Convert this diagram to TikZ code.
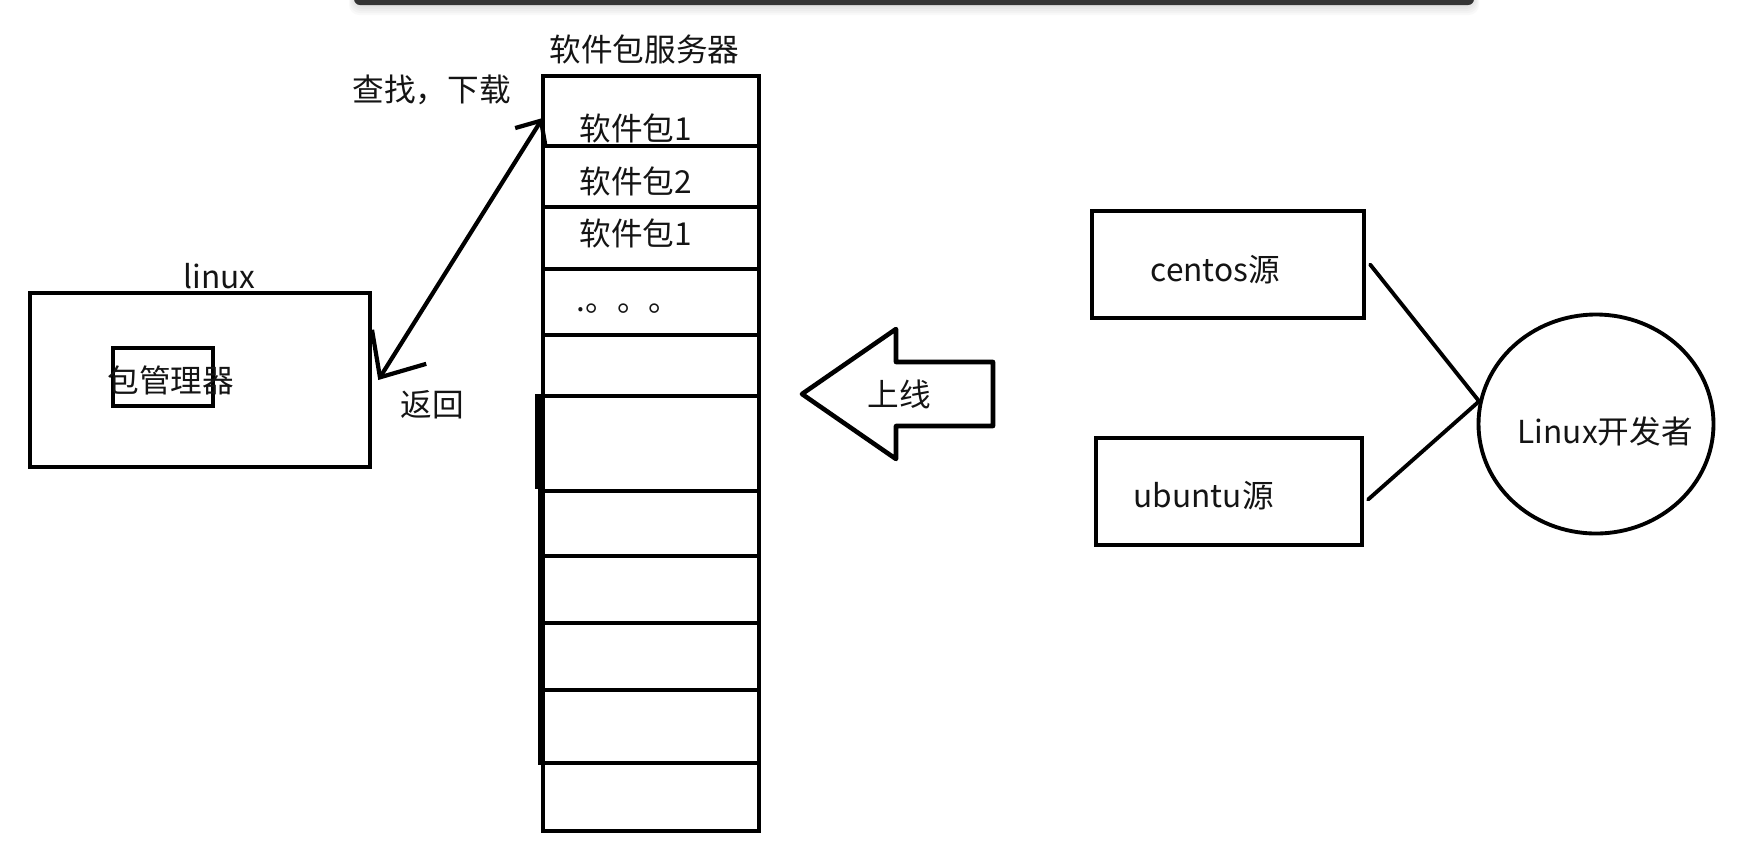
\documentclass[tikz,border=0pt]{standalone}
\usepackage{fontspec}
\setmainfont{Noto Sans CJK SC}
\usepackage{tikz}
\usetikzlibrary{shapes.geometric, arrows.meta, positioning, fit}
\definecolor{mydark}{RGB}{20,20,20}
\definecolor{barcol}{RGB}{52,52,52}
\tikzset{
  box/.style={rectangle, draw=black, line width=1.3pt, inner sep=0pt},
  devcircle/.style={ellipse, draw=black, line width=1.1pt,
    minimum width=23.5mm, minimum height=21.9mm, inner sep=0pt},
  txt/.style={inner sep=0pt, anchor=base west,
    font=\fontsize{9}{11}\selectfont, text=mydark},
  arrow/.style={{Straight Barb[length=3.6mm,width=6.4mm]}-{Straight Barb[length=2mm,width=3.6mm]},
    line width=1.2pt, line cap=round, line join=round},
  line/.style={line width=1.1pt, line cap=round}
}

\begin{document}
\begin{tikzpicture}[x=0.1mm, y=-0.1mm]
  \useasboundingbox (0,0) rectangle (1748,853);

  % window bar at the top
  \foreach \s in {1,...,5}
    \fill[black, opacity=0.025, rounded corners=1mm] (354-\s,-10) rectangle (1474+\s,5+2*\s);
  \fill[barcol, rounded corners=0.6mm] (354,-10) rectangle (1474,5);

  % software package server
  \node[txt] (srvtitle) at (549,61) {软件包服务器};
  \foreach \i/\top/\bot in {1/76/146, 2/146/207, 3/207/269, 4/269/335, 5/335/396, 6/396/491,
      7/491/556, 8/556/623, 9/623/690, 10/690/763, 11/763/831}
    \node[box, fit={(543,\top) (759,\bot)}] (row\i) {};
  % heavier strokes on the left edge
  \draw[line width=2.2pt] (row6.north west) ++(-2,0) -- ++(0,95);
  \draw[line width=1.8pt] (row7.north west) -- (row10.south west);
  \node[txt] (pkg1) at (579,140) {软件包1};
  \node[txt] (pkg2) at (579,193) {软件包2};
  \node[txt] (pkg3) at (579,245) {软件包1};
  \node[txt] (dots) at (576,311) {.。。。};

  % linux host
  \node[box, fit={(30,293) (370,467)}] (linux) {};
  \node[txt] (linuxlbl) at (183,288) {linux};
  \node[box, fit={(113,348) (213,406)}] (pkgmgr) {};
  \node[txt] (pkgmgrlbl) at (107,392) {包管理器};

  % search / download and return
  \draw[arrow] ([xshift=0.6mm]linux.east) -- ([xshift=0.2mm, yshift=-0.7mm]row1.west);
  \node[txt] (searchlbl) at (352,101) {查找，下载};
  \node[txt] (returnlbl) at (400,416) {返回};

  % going online
  \draw[line width=1.3pt, line join=round] (993,362) -- (896,362) -- (896,329) -- (802,394)
    -- (896,459) -- (896,426) -- (993,426) -- cycle;
  \node[txt] (onlinelbl) at (867,406) {上线};

  % sources and developer
  \node[box, line width=1.2pt, fit={(1092,211) (1364,318)}] (centos) {};
  \node[txt] (centoslbl) at (1150,281) {centos源};
  \node[box, line width=1.2pt, fit={(1096,438) (1362,545)}] (ubuntu) {};
  \node[txt] (ubuntulbl) at (1133,507) {ubuntu源};
  \node[devcircle] (dev) at (1596,424) {};
  \node[txt] (devlbl) at (1517,443) {Linux开发者};
  \draw[line] ([xshift=0.4mm]centos.east) -- (dev.169);
  \draw[line] ([xshift=0.4mm, yshift=-0.8mm]ubuntu.east) -- (dev.169);
\end{tikzpicture}
\end{document}
